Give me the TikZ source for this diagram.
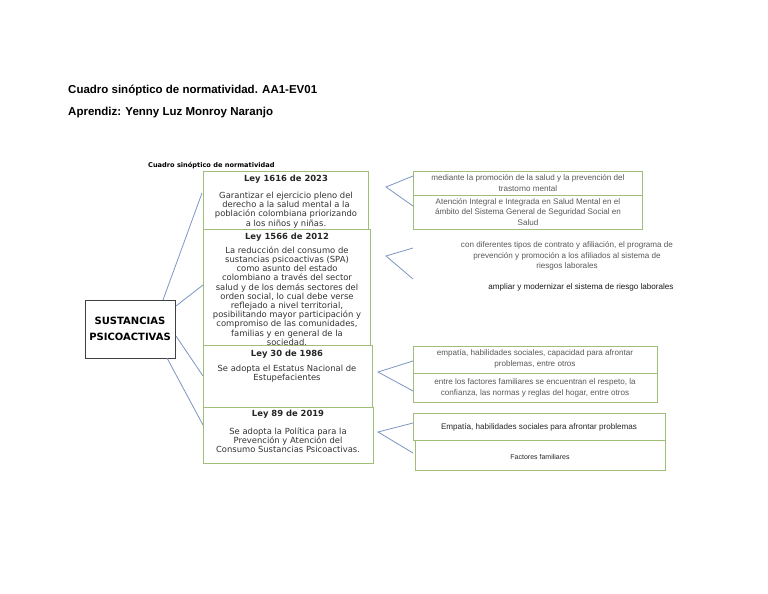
\documentclass[tikz,border=0pt]{standalone}
\usepackage{fontspec}
\setmainfont{Liberation Sans}
\newfontfamily\verd{DejaVu Sans}
\definecolor{gbox}{RGB}{160,190,120}
\definecolor{lnkc}{RGB}{125,150,195}
\begin{document}
\begin{tikzpicture}[x=1pt,y=-1pt,
  leybox/.style={draw=gbox, line width=0.9pt},
  rbox/.style={draw=gbox, line width=0.8pt},
  lnk/.style={draw=lnkc, line width=0.8pt},
  leyt/.style={font=\verd\fontsize{8.4}{9.2}\selectfont, align=center, text=black!80, inner sep=0pt},
  leyh/.style={font=\verd\bfseries\fontsize{8.4}{9}\selectfont, text=black!85, inner sep=0pt},
  rt/.style={font=\fontsize{8.1}{10.3}\selectfont, align=center, text=black!65, inner sep=0pt}]
\useasboundingbox[fill=white] (0,0) rectangle (768,594);
\node[anchor=west,font=\bfseries\fontsize{11.5}{13}\selectfont,inner sep=0pt] (t1) at (68,90) {Cuadro sinóptico de normatividad. AA1-EV01};
\node[anchor=west,font=\bfseries\fontsize{11.5}{13}\selectfont,inner sep=0pt] (t2) at (68,113) {Aprendiz: Yenny Luz Monroy Naranjo};
\node[anchor=west,font=\verd\bfseries\fontsize{6.6}{7}\selectfont,inner sep=0pt] (t3) at (148,166) {Cuadro sinóptico de normatividad};
% central
\draw[draw=black!75,line width=0.8pt] (85,300) rectangle (175,358);
\node[font=\verd\bfseries\fontsize{10}{16}\selectfont,align=center,inner sep=0pt] (c) at (130,329) {SUSTANCIAS\\PSICOACTIVAS};
% ley boxes
\draw[leybox] (203,171) rectangle (368,229);
\draw[leybox] (203,229) rectangle (370,345);
\draw[leybox] (203,345) rectangle (372,407);
\draw[leybox] (203,407) rectangle (373,463);
\node[leyh] (h1) at (286,179) {Ley 1616 de 2023};
\node[leyt] (b1) at (286,210) {Garantizar el ejercicio pleno del\\derecho a la salud mental a la\\población colombiana priorizando\\a los niños y niñas.};
\node[leyh] (h2) at (287,237) {Ley 1566 de 2012};
\node[leyt] (b2) at (287,296) {La reducción del consumo de\\sustancias psicoactivas (SPA)\\como asunto del estado\\colombiano a través del sector\\salud y de los demás sectores del\\orden social, lo cual debe verse\\reflejado a nivel territorial,\\posibilitando mayor participación y\\compromiso de las comunidades,\\familias y en general de la\\sociedad.};
\node[leyh] (h3) at (287,354) {Ley 30 de 1986};
\node[leyt] (b3) at (287,374) {Se adopta el Estatus Nacional de\\Estupefacientes};
\node[leyh] (h4) at (288,414) {Ley 89 de 2019};
\node[leyt] (b4) at (288,440) {Se adopta la Política para la\\Prevención y Atención del\\Consumo Sustancias Psicoactivas.};
% links from center
\coordinate (c1) at (163,300); \coordinate (e1) at (202,193);
\coordinate (c2) at (176,306); \coordinate (e2) at (203,285);
\coordinate (c3) at (176,336); \coordinate (e3) at (203,376);
\coordinate (c4) at (167,358); \coordinate (e4) at (203,425);
\draw[lnk] (c1)--(e1); \draw[lnk] (c2)--(e2); \draw[lnk] (c3)--(e3); \draw[lnk] (c4)--(e4);
% right boxes
\draw[rbox] (413,171) rectangle (642,195);
\draw[rbox] (413,195) rectangle (642,229);
\node[rt] (r1) at (528,183) {mediante la promoción de la salud y la prevención del\\trastorno mental};
\node[rt] (r2) at (528,212) {Atención Integral e Integrada en Salud Mental en el\\ámbito del Sistema General de Seguridad Social en\\Salud};
\node[rt] (r3) at (567,256) {con diferentes tipos de contrato y afiliación, el programa de\\prevención y promoción a los afiliados al sistema de\\riesgos laborales};
\node[rt,text=black!90] (r4) at (581,287) {ampliar y modernizar el sistema de riesgo laborales};
\draw[rbox] (413,346) rectangle (657,373);
\draw[rbox] (413,373) rectangle (657,402);
\node[rt] (r5) at (535,359) {empatía, habilidades sociales, capacidad para afrontar\\problemas, entre otros};
\node[rt] (r6) at (535,388) {entre los factores familiares se encuentran el respeto, la\\confianza, las normas y reglas del hogar, entre otros};
\draw[rbox] (413,413) rectangle (665,440);
\draw[rbox] (415,440) rectangle (665,470);
\node[rt,text=black!85] (r7) at (539,427) {Empatía, habilidades sociales para afrontar problemas};
\node[rt,font=\fontsize{7}{8}\selectfont,text=black!85] (r8) at (540,457) {Factores familiares};
% brackets
\coordinate (p1) at (386,187); \coordinate (a1) at (413,176); \coordinate (a2) at (413,206);
\coordinate (p2) at (386,256); \coordinate (a3) at (413,248); \coordinate (a4) at (413,279);
\coordinate (p3) at (378,372); \coordinate (a5) at (413,361); \coordinate (a6) at (413,391);
\coordinate (p4) at (378,432); \coordinate (a7) at (413,423); \coordinate (a8) at (413,453);
\draw[lnk] (a1)--(p1)--(a2); \draw[lnk] (a3)--(p2)--(a4);
\draw[lnk] (a5)--(p3)--(a6); \draw[lnk] (a7)--(p4)--(a8);
\end{tikzpicture}
\end{document}
